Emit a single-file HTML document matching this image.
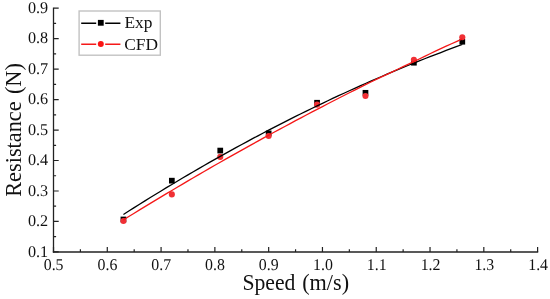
<!DOCTYPE html>
<html><head><meta charset="utf-8"><title>Resistance vs Speed</title>
<style>html,body{margin:0;padding:0;background:#fff}svg{display:block}text{font-family:"Liberation Serif",serif;fill:#111}</style>
</head><body>
<svg width="550" height="299" viewBox="0 0 550 299">
<rect width="550" height="299" fill="#fff"/>
<g stroke="#222" stroke-width="1.2" fill="none" stroke-linecap="butt">
<path d="M53.50 7.62 V252.65" stroke-width="1.3"/>
<path d="M52.85 252.00 H538.21" stroke-width="1.6"/>
<path d="M53.50 251.90h5.2M53.50 221.44h5.2M53.50 190.98h5.2M53.50 160.52h5.2M53.50 130.06h5.2M53.50 99.60h5.2M53.50 69.14h5.2M53.50 38.68h5.2M53.50 8.22h5.2M53.50 236.67h2.6M53.50 206.21h2.6M53.50 175.75h2.6M53.50 145.29h2.6M53.50 114.83h2.6M53.50 84.37h2.6M53.50 53.91h2.6M53.50 23.45h2.6M53.50 251.90v-5.0M107.29 251.90v-5.0M161.08 251.90v-5.0M214.87 251.90v-5.0M268.66 251.90v-5.0M322.45 251.90v-5.0M376.24 251.90v-5.0M430.03 251.90v-5.0M483.82 251.90v-5.0M537.61 251.90v-5.0M80.40 251.90v-2.6M134.19 251.90v-2.6M187.97 251.90v-2.6M241.77 251.90v-2.6M295.56 251.90v-2.6M349.35 251.90v-2.6M403.14 251.90v-2.6M456.92 251.90v-2.6M510.72 251.90v-2.6"/>
</g>
<g font-size="16.7" style="text-rendering:geometricPrecision">
<text transform="translate(48.2 257.05) scale(0.97 0.98)" text-anchor="end">0.1</text>
<text transform="translate(48.2 226.09) scale(0.97 0.98)" text-anchor="end">0.2</text>
<text transform="translate(48.2 195.63) scale(0.97 0.98)" text-anchor="end">0.3</text>
<text transform="translate(48.2 165.17) scale(0.97 0.98)" text-anchor="end">0.4</text>
<text transform="translate(48.2 134.71) scale(0.97 0.98)" text-anchor="end">0.5</text>
<text transform="translate(48.2 104.25) scale(0.97 0.98)" text-anchor="end">0.6</text>
<text transform="translate(48.2 73.79) scale(0.97 0.98)" text-anchor="end">0.7</text>
<text transform="translate(48.2 43.33) scale(0.97 0.98)" text-anchor="end">0.8</text>
<text transform="translate(48.2 12.87) scale(0.97 0.98)" text-anchor="end">0.9</text>
<text transform="translate(53.60 270.3) scale(0.95 0.985)" text-anchor="middle">0.5</text>
<text transform="translate(107.39 270.3) scale(0.95 0.985)" text-anchor="middle">0.6</text>
<text transform="translate(161.18 270.3) scale(0.95 0.985)" text-anchor="middle">0.7</text>
<text transform="translate(214.97 270.3) scale(0.95 0.985)" text-anchor="middle">0.8</text>
<text transform="translate(268.76 270.3) scale(0.95 0.985)" text-anchor="middle">0.9</text>
<text transform="translate(322.95 270.3) scale(0.95 0.985)" text-anchor="middle">1.0</text>
<text transform="translate(376.74 270.3) scale(0.95 0.985)" text-anchor="middle">1.1</text>
<text transform="translate(430.53 270.3) scale(0.95 0.985)" text-anchor="middle">1.2</text>
<text transform="translate(484.32 270.3) scale(0.95 0.985)" text-anchor="middle">1.3</text>
<text transform="translate(538.11 270.3) scale(0.95 0.985)" text-anchor="middle">1.4</text>
</g>
<text transform="translate(242.5 290.0) scale(0.985 1.07)" font-size="22">Speed</text>
<text transform="translate(302.2 290.0) scale(1.01 1.07)" font-size="22">(m/s)</text>
<text transform="translate(21 196.8) rotate(-90) scale(1.015 1.08)" font-size="22">Resistance</text>
<text transform="translate(21 94.1) rotate(-90) scale(1.015 1.08)" font-size="22">(N)</text>
<rect x="120.58" y="216.63" width="5.7" height="5.7" fill="#000"/>
<rect x="168.99" y="177.82" width="5.7" height="5.7" fill="#000"/>
<rect x="217.40" y="147.72" width="5.7" height="5.7" fill="#000"/>
<rect x="265.81" y="130.54" width="5.7" height="5.7" fill="#000"/>
<rect x="314.22" y="99.89" width="5.7" height="5.7" fill="#000"/>
<rect x="362.63" y="89.96" width="5.7" height="5.7" fill="#000"/>
<rect x="411.04" y="59.86" width="5.7" height="5.7" fill="#000"/>
<rect x="459.45" y="38.89" width="5.7" height="5.7" fill="#000"/>
<circle cx="123.43" cy="221.04" r="3.05" fill="#f03035"/>
<circle cx="171.84" cy="194.39" r="3.05" fill="#f03035"/>
<circle cx="220.25" cy="156.90" r="3.05" fill="#f03035"/>
<circle cx="268.66" cy="135.98" r="3.05" fill="#f03035"/>
<circle cx="317.07" cy="104.66" r="3.05" fill="#f03035"/>
<circle cx="365.48" cy="95.95" r="3.05" fill="#f03035"/>
<circle cx="413.89" cy="59.79" r="3.05" fill="#f03035"/>
<circle cx="462.30" cy="37.30" r="3.05" fill="#f03035"/>
<path d="M123.43 214.45 L128.81 211.02 L134.19 207.62 L139.56 204.23 L144.94 200.88 L150.32 197.54 L155.70 194.23 L161.08 190.94 L166.46 187.68 L171.84 184.44 L177.22 181.22 L182.60 178.03 L187.97 174.86 L193.35 171.72 L198.73 168.59 L204.11 165.50 L209.49 162.42 L214.87 159.37 L220.25 156.34 L225.63 153.34 L231.01 150.36 L236.39 147.40 L241.76 144.47 L247.14 141.56 L252.52 138.67 L257.90 135.81 L263.28 132.97 L268.66 130.16 L274.04 127.36 L279.42 124.60 L284.80 121.85 L290.18 119.13 L295.55 116.43 L300.93 113.76 L306.31 111.11 L311.69 108.48 L317.07 105.88 L322.45 103.30 L327.83 100.74 L333.21 98.21 L338.59 95.70 L343.97 93.22 L349.35 90.76 L354.72 88.32 L360.10 85.90 L365.48 83.51 L370.86 81.15 L376.24 78.80 L381.62 76.48 L387.00 74.19 L392.38 71.91 L397.76 69.66 L403.13 67.44 L408.51 65.24 L413.89 63.06 L419.27 60.90 L424.65 58.77 L430.03 56.66 L435.41 54.58 L440.79 52.52 L446.17 50.48 L451.55 48.47 L456.92 46.48 L462.30 44.51" fill="none" stroke="#000" stroke-width="1.3"/>
<path d="M123.43 219.85 L128.81 216.53 L134.19 213.22 L139.56 209.92 L144.94 206.64 L150.32 203.37 L155.70 200.12 L161.08 196.88 L166.46 193.66 L171.84 190.45 L177.22 187.26 L182.60 184.08 L187.97 180.91 L193.35 177.76 L198.73 174.63 L204.11 171.51 L209.49 168.40 L214.87 165.31 L220.25 162.23 L225.63 159.17 L231.01 156.12 L236.39 153.09 L241.76 150.07 L247.14 147.07 L252.52 144.08 L257.90 141.10 L263.28 138.14 L268.66 135.20 L274.04 132.27 L279.42 129.35 L284.80 126.45 L290.18 123.56 L295.55 120.69 L300.93 117.83 L306.31 114.99 L311.69 112.16 L317.07 109.34 L322.45 106.55 L327.83 103.76 L333.21 100.99 L338.59 98.23 L343.97 95.49 L349.35 92.77 L354.72 90.05 L360.10 87.36 L365.48 84.67 L370.86 82.02 L376.24 79.44 L381.62 76.88 L387.00 74.33 L392.38 71.80 L397.76 69.28 L403.13 66.70 L408.51 64.14 L413.89 61.59 L419.27 58.98 L424.65 56.37 L430.03 53.78 L435.41 51.20 L440.79 48.65 L446.17 46.18 L451.55 43.73 L456.92 41.30 L462.30 38.88" fill="none" stroke="#f51818" stroke-width="1.3"/>
<rect x="79.1" y="11.0" width="81.2" height="44.2" fill="#fff" stroke="#c2c2c2" stroke-width="1.4"/>
<path d="M81.2 23.2H96.2M105.2 23.2H120.4" stroke="#000" stroke-width="1.4"/>
<rect x="97.9" y="19.9" width="5.8" height="5.8" fill="#000"/>
<path d="M81.2 44.2H96.2M105.2 44.2H120.4" stroke="#f51818" stroke-width="1.4"/>
<circle cx="100.8" cy="44" r="3" fill="#fa1414"/>
<text transform="translate(124.4 28.3) scale(1 1.02)" font-size="17.4">Exp</text>
<text transform="translate(124.2 49.7) scale(1 1.02)" font-size="17.4">CFD</text>
</svg>
</body></html>
